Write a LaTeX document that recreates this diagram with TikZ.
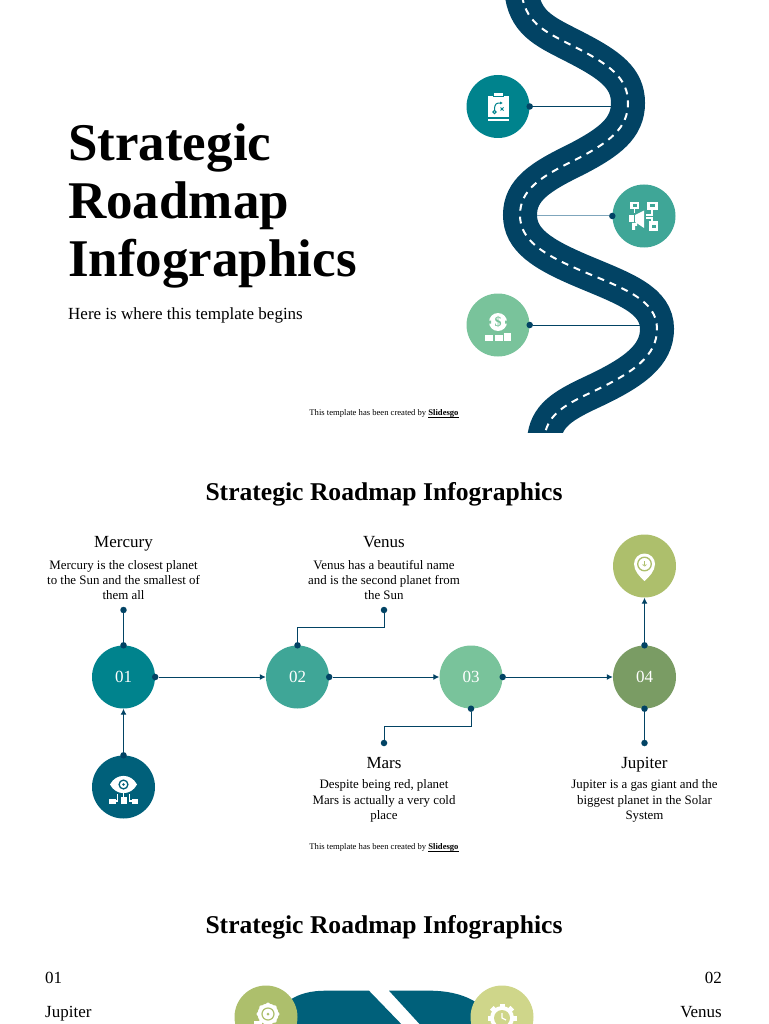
\documentclass[tikz,border=0pt]{standalone}
\usepackage{fontspec}
\setmainfont{Liberation Serif}
\usepackage{tikz}
\usetikzlibrary{arrows.meta}
\definecolor{roadblue}{HTML}{024364}
\definecolor{tealone}{HTML}{00838D}
\definecolor{tealtwo}{HTML}{3FA697}
\definecolor{greenthree}{HTML}{79C39B}
\definecolor{greenfour}{HTML}{7A9C64}
\definecolor{olive}{HTML}{ADBF6C}
\definecolor{pale}{HTML}{CFD68A}
\definecolor{deepteal}{HTML}{00607A}
\definecolor{paleline}{HTML}{7FA6BC}
\newcommand{\fsize}[2]{\fontsize{#1}{#2}\selectfont}

\begin{document}
\begin{tikzpicture}[x=1pt,y=-1pt,
disc/.style={circle,minimum size=63pt,inner sep=0pt,text=white,font=\fsize{17}{19}},
dot/.style={circle,fill=roadblue,minimum size=6.5pt,inner sep=0pt},
link/.style={draw=roadblue,line width=1pt},
arrowlink/.style={link,-{Latex[length=6pt,width=6pt]}},
bigtitle/.style={font=\fsize{53}{58}\bfseries,align=left,anchor=west,inner sep=0pt},
heading/.style={font=\fsize{25.6}{30}\bfseries,inner sep=0pt},
planet/.style={font=\fsize{17}{19},inner sep=0pt,anchor=base},
blurb/.style={font=\fsize{12.9}{15.2},align=center,inner sep=0pt},
credit/.style={font=\fsize{8.6}{10},inner sep=0pt}]
\useasboundingbox (0,0) rectangle (768,1024);
\clip (0,0) rectangle (768,1024);

% first slide, the road
\begin{scope}
\clip (440,0) rectangle (768,432.5);
\def\roadpath{(522,-4) .. controls (527,25) and (548,33) .. (575,47)
.. controls (610,65) and (628,78) .. (628,103)
.. controls (628,128) and (610,142) .. (575,160)
.. controls (540,177) and (520,190) .. (520,215)
.. controls (520,240) and (542,254) .. (582,271)
.. controls (625,289) and (657,300) .. (657,329)
.. controls (657,355) and (635,372) .. (592,392)
.. controls (562,406) and (546,416) .. (544,440)}
\draw[roadblue,line width=34pt] \roadpath;
\draw[white,line width=2pt,dash pattern=on 7pt off 6pt] \roadpath;
\end{scope}

\node[bigtitle] (maintitle) at (68,206) {Strategic\\Roadmap\\Infographics};
\node[font=\fsize{17}{19},anchor=west,inner sep=0pt] (subtitle) at (68,315) {Here is where this template begins};
\node[credit] (creditone) at (384,414) {This template has been created by \underline{\smash{\textbf{Slidesgo}}}};

\node[disc,fill=tealone] (stepa) at (498,106.5) {};
\node[disc,fill=tealtwo] (stepb) at (644,216) {};
\node[disc,fill=greenthree] (stepc) at (498,325) {};
\coordinate (roada) at (612,106.5);
\coordinate (roadb) at (537,216);
\coordinate (roadc) at (641,325);
\node[dot] (dota) at (stepa.east) {};
\node[dot] (dotb) at (stepb.west) {};
\node[dot] (dotc) at (stepc.east) {};
\draw[link] (dota) -- (roada);
\draw[link,draw=paleline] (dotb) -- (roadb);
\draw[link] (dotc) -- (roadc);

% clipboard
\fill[white] (488,96) rectangle (509,117.5);
\fill[white] (488,119) rectangle (509,121.5);
\fill[white] (494,93.5) rectangle (503,96);
\draw[tealone,line width=1pt] (493,96.5) -- (504,96.5);
\draw[tealone,line width=1pt,-{Latex[length=3pt,width=3pt]}] (494.5,110) .. controls (494.5,103) and (497,103) .. (503,103);
\draw[tealone,line width=1pt] (494.5,112) circle (1.6);
\draw[tealone,line width=1pt] (500.5,107.5) -- (503.5,110.5) (503.5,107.5) -- (500.5,110.5);

% megaphone
\fill[white] (630,202) rectangle (639,209);
\fill[white] (647,202) rectangle (658,210);
\fill[white] (649,221) rectangle (658,231);
\fill[tealtwo] (632.5,204) rectangle (636.5,207);
\fill[tealtwo] (650,204) rectangle (655,207);
\fill[tealtwo] (651.5,225.5) rectangle (655.5,228.5);
\draw[white,line width=1.4pt] (634.5,209) -- (634.5,213) (652,210) -- (652,215) -- (646,215) (646,218) -- (652,218) -- (652,221);
\fill[white] (629,215) rectangle (634,222);
\fill[white] (635,215) -- (644,210.5) -- (644,228) -- (635,222) -- cycle;
\fill[white] (632,223) -- (637,223) -- (637,226) -- (635,226) -- (635,230) -- (632,230) -- cycle;

% dollar
\fill[white] (498,322) circle (9);
\fill[greenthree] (488,320.5) rectangle (491,323.5) (505,320.5) rectangle (508,323.5);
\node[font=\fsize{14}{14}\bfseries,text=greenthree,inner sep=0pt] (dollar) at (498,322) {\$};
\fill[white] (485,335) rectangle (493,341);
\fill[white] (494.5,335) rectangle (502.5,341);
\fill[white] (504,333) rectangle (511,341);

% second slide
\node[heading] (headtwo) at (384,494.5) {Strategic Roadmap Infographics};
\node[disc,fill=tealone] (one) at (123.5,677) {01};
\node[disc,fill=tealtwo] (two) at (297.5,677) {02};
\node[disc,fill=greenthree] (three) at (471,677) {03};
\node[disc,fill=greenfour] (four) at (644.5,677) {04};
\node[disc,fill=olive] (pin) at (644.5,566) {};
\node[disc,fill=deepteal] (eye) at (123.5,787) {};

\node[planet] (mercury) at (123.5,547.5) {Mercury};
\node[planet] (venus) at (384,547.5) {Venus};
\node[planet] (mars) at (384,768) {Mars};
\node[planet] (jupiter) at (644.5,768) {Jupiter};
\node[blurb] (mercurytext) at (123.5,580) {Mercury is the closest planet\\to the Sun and the smallest of\\them all};
\node[blurb] (venustext) at (384,580) {Venus has a beautiful name\\and is the second planet from\\the Sun};
\node[blurb] (marstext) at (384,801) {Despite being red, planet\\Mars is actually a very cold\\place};
\node[blurb] (jupitertext) at (644.5,801) {Jupiter is a gas giant and the\\biggest planet in the Solar\\System};

\node[dot] (onetop) at (one.north) {};
\node[dot] (oneright) at (one.east) {};
\node[dot] (twotop) at (two.north) {};
\node[dot] (tworight) at (two.east) {};
\node[dot] (threeright) at (three.east) {};
\node[dot] (threedown) at (three.south) {};
\node[dot] (fourtop) at (four.north) {};
\node[dot] (fourdown) at (four.south) {};
\node[dot] (eyetop) at (eye.north) {};
\node[dot] (endmercury) at (123.5,610) {};
\node[dot] (endvenus) at (384,610) {};
\node[dot] (endmars) at (384,743) {};
\node[dot] (endjupiter) at (644.5,743) {};
\coordinate (bendvenus) at (384,627.5);
\coordinate (bendmars) at (384,726);

\draw[link] (onetop) -- (endmercury);
\draw[link] (twotop) |- (bendvenus) -- (endvenus);
\draw[link] (threedown) |- (bendmars) -- (endmars);
\draw[link] (fourdown) -- (endjupiter);
\draw[arrowlink] (oneright) -- (two);
\draw[arrowlink] (tworight) -- (three);
\draw[arrowlink] (threeright) -- (four);
\draw[arrowlink] (fourtop) -- (pin);
\draw[arrowlink] (eyetop) -- (one);

% eye
\fill[white] (110,784.5) .. controls (116,773) and (131,773) .. (137,784.5) .. controls (131,796) and (116,796) .. (110,784.5) -- cycle;
\draw[deepteal,line width=1.3pt] (123.5,784.5) circle (4.4);
\fill[deepteal] (123.5,784.5) circle (1.3);
\fill[white] (109,798.5) rectangle (115.5,804);
\fill[white] (120.5,797) rectangle (126.5,804);
\fill[white] (131.5,798.5) rectangle (138,804);
\draw[white,line width=1.3pt] (115,801) -- (117.5,801) -- (117.5,794) (123.5,797.5) -- (123.5,793) (132,801) -- (129.5,801) -- (129.5,794);

% pin
\fill[white] (634,564) arc[start angle=180,end angle=360,radius=10.5] .. controls (655,571) and (649,577) .. (644.5,581) .. controls (640,577) and (634,571) .. (634,564) -- cycle;
\draw[olive,line width=1.3pt] (644.5,564) circle (6.8);
\draw[olive,line width=1pt] (644.5,561) -- (644.5,565);
\draw[olive,line width=.8pt] (642.6,564.5) arc[start angle=170,end angle=10,radius=1.9];

\node[credit] (credittwo) at (384,847.5) {This template has been created by \underline{\smash{\textbf{Slidesgo}}}};

% third slide
\node[heading] (headthree) at (384,927.5) {Strategic Roadmap Infographics};
\fill[deepteal] (272,1030) .. controls (276,1003) and (297,990.7) .. (325,990.7) -- (369,990.7) -- (407,1030) -- cycle;
\fill[deepteal] (389,990.7) -- (430,990.7) .. controls (462,990.7) and (490,1003) .. (495,1030) -- (425,1030) -- cycle;
\node[disc,fill=olive] (gearleft) at (266,1017) {};
\node[disc,fill=pale] (gearright) at (502,1017) {};

% small gear
\fill[white] (268,1014) circle (10.5);
\foreach \a in {0,45,...,315} \fill[white] (268,1014) ++(\a:9.5) circle (2);
\draw[olive,line width=1.2pt] (268,1014) circle (6);
\fill[olive] (268,1014) circle (1.5);
\fill[white] (254,1021) rectangle (262,1026);

% clock gear
\fill[white] (502,1018) circle (12);
\foreach \a in {0,45,...,315} \fill[white,rotate around={\a:(502,1018)}] (499.5,1003.5) rectangle (504.5,1009);
\fill[pale] (502,1018) circle (8);
\draw[white,line width=1.2pt] (502,1013) -- (502,1018) -- (506,1020);

\node[planet,anchor=base west] (numone) at (45,983) {01};
\node[planet,anchor=base west] (namejupiter) at (45,1017.5) {Jupiter};
\node[planet,anchor=base east] (numtwo) at (722,983) {02};
\node[planet,anchor=base east] (namevenus) at (722,1017.5) {Venus};
\end{tikzpicture}
\end{document}
